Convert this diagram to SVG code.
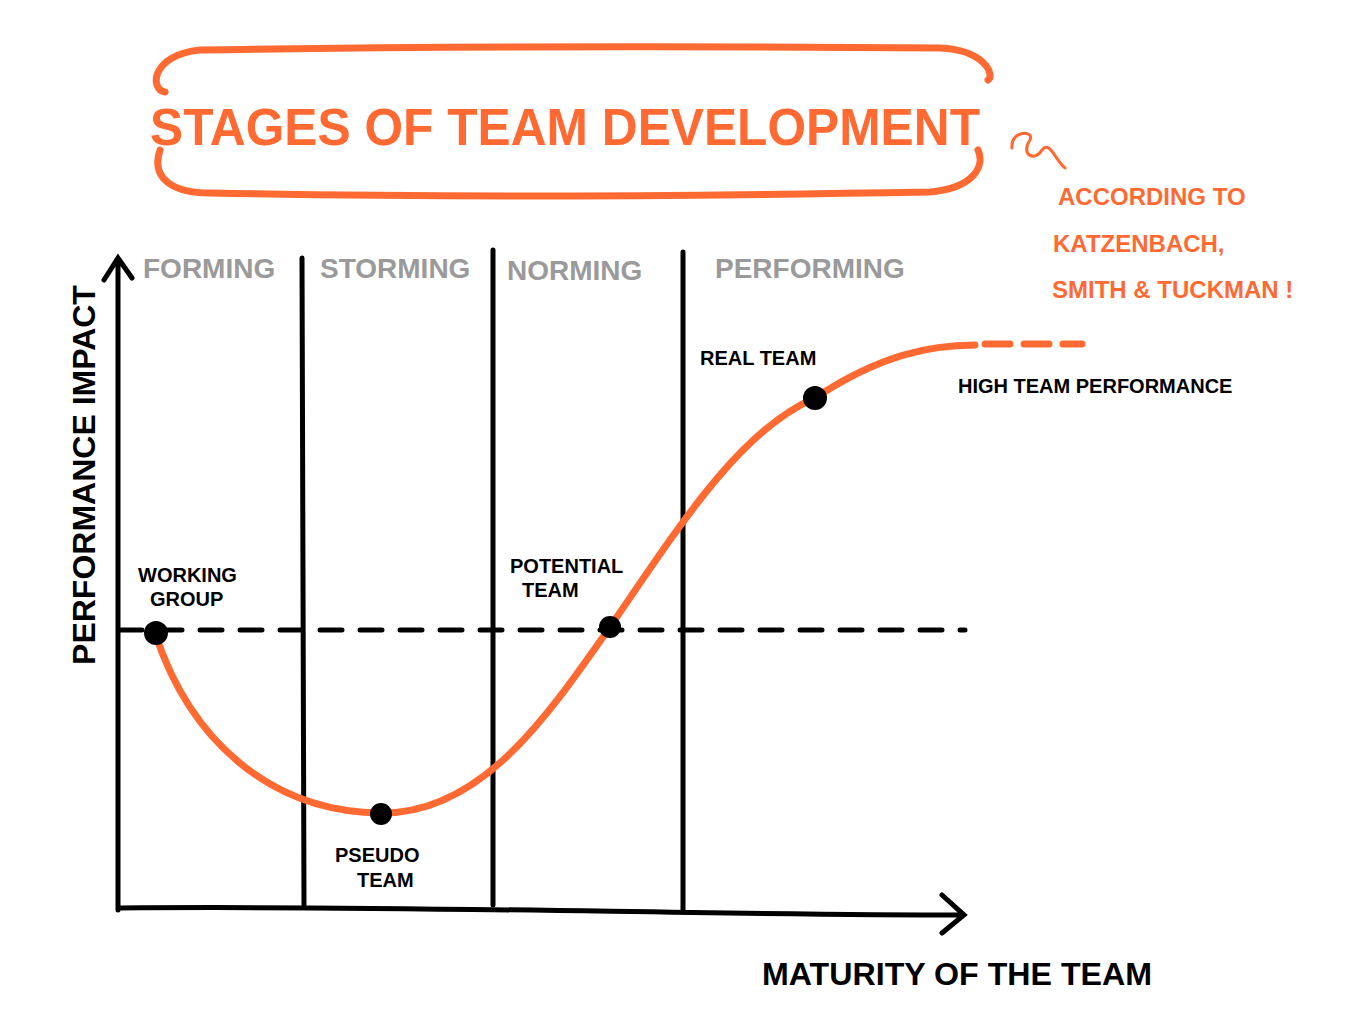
<svg xmlns="http://www.w3.org/2000/svg" width="1358" height="1031" viewBox="0 0 1358 1031">
<style>
.o{fill:none;stroke:#ff6a33;stroke-linecap:round;stroke-linejoin:round}
.k{fill:none;stroke:#000;stroke-width:5;stroke-linecap:round}
.t{font-family:"Liberation Sans",Arial,sans-serif;font-weight:bold}
.lab{font-family:"Liberation Sans",Arial,sans-serif;font-weight:bold;font-size:20px;fill:#000}
.stg{font-family:"Liberation Sans",Arial,sans-serif;font-weight:bold;font-size:28px;fill:#9a9a9a}
.or{font-family:"Liberation Sans",Arial,sans-serif;font-weight:bold;font-size:24px;fill:#ff6a33}
</style>
<rect width="1358" height="1031" fill="#fff"/>
<g id="title">
<path class="o" stroke-width="7" d="M200,50 C450,46 700,46 940,48 C985,50 995,75 988,80 M200,50 C150,55 150,90 165,92 M160,150 C150,180 175,193 210,193 C450,198 700,196 930,192 C975,188 985,165 978,150"/>
<text class="t" x="150" y="145" font-size="52" fill="#ff6a33" textLength="830" lengthAdjust="spacingAndGlyphs">STAGES OF TEAM DEVELOPMENT</text>
</g>
<g id="note">
<path class="o" stroke-width="3" d="M1012,148 C1010,130 1035,130 1030,140 C1020,155 1035,162 1042,150 C1050,140 1055,160 1065,168"/>
<text class="or" x="1058" y="205">ACCORDING TO</text>
<text class="or" x="1053" y="252">KATZENBACH,</text>
<text class="or" x="1052" y="298">SMITH &amp; TUCKMAN !</text>
</g>
<g id="axes">
<path class="k" d="M118,910 L118,260 M104,280 L118,258 L132,278"/>
<path class="k" d="M120,908 C400,905 700,915 962,915 M942,895 L964,915 L942,933"/>
<path class="k" d="M302,258 L304,905 M493,250 L493,905 M683,252 L683,912"/>
<text class="t" font-size="32" fill="#000" transform="translate(95,475) rotate(-90)" text-anchor="middle">PERFORMANCE IMPACT</text>
<text class="t" x="762" y="985" font-size="32" fill="#000" textLength="390" lengthAdjust="spacingAndGlyphs">MATURITY OF THE TEAM</text>
</g>
<g id="stages">
<text class="stg" x="143" y="278">FORMING</text>
<text class="stg" x="320" y="278">STORMING</text>
<text class="stg" x="507" y="280">NORMING</text>
<text class="stg" x="715" y="278">PERFORMING</text>
</g>
<g id="connectors">
<path class="k" stroke-dasharray="22,18" d="M120,630 L965,630"/>
<path class="o" stroke-width="7" d="M155,633 C190,740 270,812 381,813 C480,814 545,720 610,627 C680,525 740,430 815,398 C880,355 930,345 975,345"/>
<path class="o" stroke-width="7" stroke-dasharray="25,14" d="M985,344 L1082,344"/>
</g>
<g id="points">
<circle cx="156" cy="633" r="12"/>
<circle cx="381" cy="814" r="11"/>
<circle cx="610" cy="627" r="11"/>
<circle cx="815" cy="398" r="12"/>
</g>
<g id="labels">
<text class="lab" x="138" y="582">WORKING</text>
<text class="lab" x="150" y="606">GROUP</text>
<text class="lab" x="335" y="862">PSEUDO</text>
<text class="lab" x="357" y="887">TEAM</text>
<text class="lab" x="510" y="573">POTENTIAL</text>
<text class="lab" x="522" y="597">TEAM</text>
<text class="lab" x="700" y="365">REAL TEAM</text>
<text class="lab" x="958" y="393">HIGH TEAM PERFORMANCE</text>
</g>
</svg>
